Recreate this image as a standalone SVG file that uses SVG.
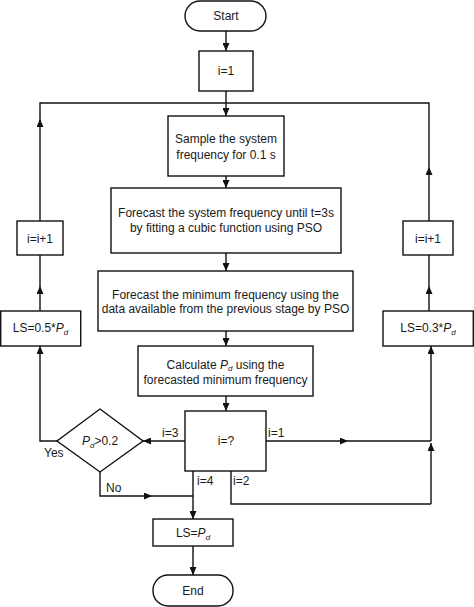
<svg xmlns="http://www.w3.org/2000/svg" width="474" height="607" viewBox="0 0 474 607">
<defs>
<marker id="ah" markerWidth="8" markerHeight="7" refX="8" refY="3.5" orient="auto" markerUnits="userSpaceOnUse">
<path d="M0,0 L8,3.5 L0,7 z" fill="#111"/>
</marker>
<style>
.box{fill:#fff;stroke:#111;stroke-width:1.4}
.ln{fill:none;stroke:#111;stroke-width:1.4}
.ar{fill:none;stroke:#111;stroke-width:1.4;marker-end:url(#ah)}
text{font-family:"Liberation Sans",Arial,sans-serif;font-size:12px;fill:#1a1a1a}
.c{text-anchor:middle}
.i{font-style:italic}
.s{font-size:8px;font-style:italic}
</style>
</defs>
<rect width="474" height="607" fill="#fff"/>
<g id="connectors">
<path class="ar" d="M226,31 V51"/>
<path class="ar" d="M226,91 V116"/>
<path class="ar" d="M226,176 V188"/>
<path class="ar" d="M226,253 V271"/>
<path class="ar" d="M226,331 V346"/>
<path class="ar" d="M226,396 V411"/>
<path class="ar" d="M185,441 H143"/>
<path class="ar" d="M57,441 H40 V346"/>
<path class="ar" d="M40,311 V286"/>
<path class="ln" d="M40,286 V255"/>
<path class="ar" d="M40,221 V119"/>
<path class="ln" d="M40,119 V103 H429 V167"/>
<path class="ar" d="M429,221 V167"/>
<path class="ar" d="M429,311 V286"/>
<path class="ln" d="M429,286 V255"/>
<path class="ar" d="M266,441 H348"/>
<path class="ln" d="M348,441 H431"/>
<path class="ar" d="M431,441 V346"/>
<path class="ln" d="M231,471 V504 H431"/>
<path class="ar" d="M431,504 V443"/>
<path class="ar" d="M100,472 V496 H152"/>
<path class="ln" d="M152,496 H193"/>
<path class="ar" d="M193,471 V519"/>
<path class="ar" d="M193,546 V575"/>
</g>
<g id="start"><rect class="box" x="185" y="1" width="81" height="30" rx="15"/><text class="c" x="226" y="20">Start</text></g>
<g id="init"><rect class="box" x="199" y="51" width="54" height="40"/><text class="c" x="226" y="75">i=1</text></g>
<g id="sample"><rect class="box" x="168" y="116" width="116" height="60"/><text class="c" x="226" y="143">Sample the system</text><text class="c" x="226" y="159">frequency for 0.1 s</text></g>
<g id="forecast1"><rect class="box" x="111" y="188" width="230" height="65"/><text class="c" x="226" y="217">Forecast the system frequency until t=3s</text><text class="c" x="226" y="232">by fitting a cubic function using PSO</text></g>
<g id="forecast2"><rect class="box" x="98" y="271" width="255" height="60"/><text class="c" x="225.5" y="299">Forecast the minimum frequency using the</text><text class="c" x="225.5" y="313">data available from the previous stage by PSO</text></g>
<g id="calc"><rect class="box" x="138" y="346" width="175" height="50"/><text class="c" x="225.5" y="369">Calculate <tspan class="i">P</tspan><tspan class="s" dy="2">d</tspan><tspan dy="-2"> using the</tspan></text><text class="c" x="225.5" y="384">forecasted minimum frequency</text></g>
<g id="decide"><rect class="box" x="185" y="411" width="81" height="60"/><text class="c" x="226" y="445">i=?</text></g>
<g id="pdtest"><path class="box" d="M100,409 L143,441 L100,472 L57,441 z"/><text class="c" x="100" y="445"><tspan class="i">P</tspan><tspan class="s" dy="3">d</tspan><tspan dy="-3">&gt;0.2</tspan></text></g>
<g id="inc-left"><rect class="box" x="17" y="221" width="46" height="34"/><text class="c" x="40" y="243">i=i+1</text></g>
<g id="inc-right"><rect class="box" x="403" y="221" width="50" height="34"/><text class="c" x="428" y="243">i=i+1</text></g>
<g id="ls05"><rect class="box" x="0.7" y="311" width="80" height="35"/><text class="c" x="40.5" y="332">LS=0.5*<tspan class="i">P</tspan><tspan class="s" dy="3">d</tspan></text></g>
<g id="ls03"><rect class="box" x="383" y="311" width="90.3" height="35"/><text class="c" x="428" y="332">LS=0.3*<tspan class="i">P</tspan><tspan class="s" dy="3">d</tspan></text></g>
<g id="lspd"><rect class="box" x="153" y="519" width="80" height="27"/><text class="c" x="193" y="537">LS=<tspan class="i">P</tspan><tspan class="s" dy="3">d</tspan></text></g>
<g id="end"><rect class="box" x="153" y="575" width="80" height="31" rx="15"/><text class="c" x="193" y="595">End</text></g>
<g id="labels">
<text x="162" y="437">i=3</text>
<text x="268" y="437">i=1</text>
<text x="44" y="457">Yes</text>
<text x="106" y="492">No</text>
<text x="197" y="485">i=4</text>
<text x="233" y="485">i=2</text>
</g>
</svg>
